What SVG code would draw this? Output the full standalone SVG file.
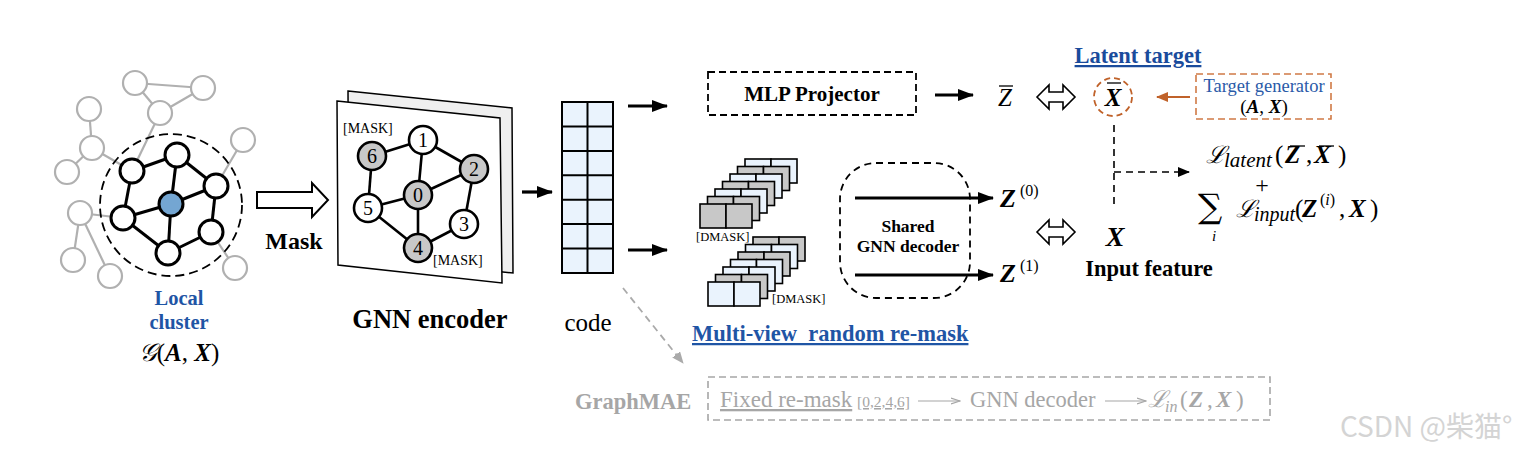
<svg xmlns="http://www.w3.org/2000/svg" width="1524" height="453" viewBox="0 0 1524 453">
<style>
.gE{stroke:#b0b0b0;stroke-width:2.2;fill:none}
.gN{stroke:#b0b0b0;stroke-width:2.2;fill:#fff}
.bE{stroke:#000;stroke-width:3;fill:none}
.bN{stroke:#000;stroke-width:3;fill:#fff}
.eE{stroke:#000;stroke-width:2.6;fill:none}
.eN{stroke:#000;stroke-width:2.6;fill:#fff}
.eG{stroke:#000;stroke-width:2.6;fill:#c8c8c8}
.num{font-family:"Liberation Serif",serif;font-size:20px;text-anchor:middle}
.ser{font-family:"Liberation Serif","DejaVu Serif",serif}
.bold{font-weight:bold}
.mi{font-family:"Liberation Serif","DejaVu Serif",serif;font-style:italic}
.scr{font-family:"DejaVu Serif",serif;font-style:italic}
.blue{fill:#1f55a5}
.thick{stroke:#000;stroke-width:3.2;fill:none}
.cell{stroke:#000;stroke-width:2;fill:#eaf3fd}
.sb{stroke:#000;stroke-width:1.6;fill:#eaf3fd}
.sg{stroke:#000;stroke-width:1.6;fill:#c8c8c8}
.gray{fill:#a6a6a6}
</style>
<defs>
<marker id="ah" markerUnits="userSpaceOnUse" markerWidth="16" markerHeight="12" refX="15" refY="6" orient="auto"><path d="M0,0 L16,6 L0,12 z" fill="#000"/></marker>
<marker id="ahO" markerUnits="userSpaceOnUse" markerWidth="12" markerHeight="10" refX="11" refY="5" orient="auto"><path d="M0,0 L12,5 L0,10 z" fill="#c0622a"/></marker>
<marker id="ahG" markerUnits="userSpaceOnUse" markerWidth="12" markerHeight="10" refX="11" refY="5" orient="auto"><path d="M0,0 L12,5 L0,10 z" fill="#aaa"/></marker>
<marker id="ahT" markerUnits="userSpaceOnUse" markerWidth="12" markerHeight="10" refX="11" refY="5" orient="auto"><path d="M0,0 L12,5 L0,10 z" fill="#000"/></marker>
<marker id="ahTG" markerUnits="userSpaceOnUse" markerWidth="10" markerHeight="8" refX="9" refY="4" orient="auto"><path d="M0,1 L9,4 L0,7" fill="none" stroke="#a6a6a6" stroke-width="1.2"/></marker>
</defs>

<!-- Local cluster -->
<g id="local-cluster">
  <g>
    <line class="gE" x1="135" y1="83" x2="203" y2="88"/>
    <line class="gE" x1="135" y1="83" x2="160" y2="113"/>
    <line class="gE" x1="203" y1="88" x2="160" y2="113"/>
    <line class="gE" x1="160" y1="113" x2="132" y2="171"/>
    <line class="gE" x1="89" y1="109" x2="92" y2="148"/>
    <line class="gE" x1="92" y1="148" x2="67" y2="172"/>
    <line class="gE" x1="92" y1="148" x2="132" y2="171"/>
    <line class="gE" x1="80" y1="213" x2="123" y2="218"/>
    <line class="gE" x1="80" y1="213" x2="73" y2="260"/>
    <line class="gE" x1="80" y1="213" x2="110" y2="276"/>
    <line class="gE" x1="243" y1="140" x2="216" y2="186"/>
    <line class="gE" x1="235" y1="268" x2="211" y2="232"/>
    <circle class="gN" cx="135" cy="83" r="12"/>
    <circle class="gN" cx="203" cy="88" r="12"/>
    <circle class="gN" cx="160" cy="113" r="12"/>
    <circle class="gN" cx="89" cy="109" r="12"/>
    <circle class="gN" cx="92" cy="148" r="12"/>
    <circle class="gN" cx="67" cy="172" r="12"/>
    <circle class="gN" cx="80" cy="213" r="12"/>
    <circle class="gN" cx="73" cy="260" r="12"/>
    <circle class="gN" cx="110" cy="276" r="12"/>
    <circle class="gN" cx="243" cy="140" r="12"/>
    <circle class="gN" cx="235" cy="268" r="12"/>
  </g>
  <circle cx="171" cy="205" r="71" fill="none" stroke="#000" stroke-width="1.8" stroke-dasharray="9,5"/>
  <g>
    <line class="bE" x1="177" y1="155" x2="132" y2="171"/>
    <line class="bE" x1="177" y1="155" x2="171" y2="204"/>
    <line class="bE" x1="177" y1="155" x2="216" y2="186"/>
    <line class="bE" x1="132" y1="171" x2="123" y2="218"/>
    <line class="bE" x1="123" y1="218" x2="171" y2="204"/>
    <line class="bE" x1="123" y1="218" x2="168" y2="253"/>
    <line class="bE" x1="171" y1="204" x2="216" y2="186"/>
    <line class="bE" x1="171" y1="204" x2="168" y2="253"/>
    <line class="bE" x1="216" y1="186" x2="211" y2="232"/>
    <line class="bE" x1="211" y1="232" x2="168" y2="253"/>
    <circle class="bN" cx="177" cy="155" r="12"/>
    <circle class="bN" cx="132" cy="171" r="12"/>
    <circle class="bN" cx="216" cy="186" r="12"/>
    <circle cx="171" cy="204" r="12" fill="#74a6d2" stroke="#000" stroke-width="3"/>
    <circle class="bN" cx="123" cy="218" r="12"/>
    <circle class="bN" cx="211" cy="232" r="12"/>
    <circle class="bN" cx="168" cy="253" r="12"/>
  </g>
  <text class="ser bold blue" x="179" y="305" font-size="20.5" text-anchor="middle">Local</text>
  <text class="ser bold blue" x="179" y="329" font-size="20.5" text-anchor="middle">cluster</text>
  <text x="179" y="361" font-size="25" text-anchor="middle"><tspan class="scr">𝒢</tspan><tspan class="ser">(</tspan><tspan class="mi bold">A</tspan><tspan class="ser">, </tspan><tspan class="mi bold">X</tspan><tspan class="ser">)</tspan></text>
</g>

<!-- Mask arrow -->
<g id="mask-step">
  <polygon points="257,192 312,192 312,183 328,200 312,217 312,208 257,208" fill="#fff" stroke="#000" stroke-width="2"/>
  <text class="ser bold" x="294" y="249" font-size="24" text-anchor="middle">Mask</text>
</g>

<!-- GNN encoder -->
<g id="gnn-encoder">
  <polygon points="348,91 512,108 513,273 349,256" fill="#efefef" stroke="#000" stroke-width="1.5"/>
  <polygon points="337,101 500,118 502,283 338,265" fill="#fff" stroke="#000" stroke-width="1.5"/>
  <line class="eE" x1="372" y1="156" x2="423" y2="140"/>
  <line class="eE" x1="423" y1="140" x2="474" y2="169"/>
  <line class="eE" x1="423" y1="140" x2="418" y2="195"/>
  <line class="eE" x1="372" y1="156" x2="368" y2="208"/>
  <line class="eE" x1="368" y1="208" x2="418" y2="195"/>
  <line class="eE" x1="418" y1="195" x2="474" y2="169"/>
  <line class="eE" x1="474" y1="169" x2="464" y2="224"/>
  <line class="eE" x1="368" y1="208" x2="418" y2="248"/>
  <line class="eE" x1="418" y1="195" x2="418" y2="248"/>
  <line class="eE" x1="418" y1="248" x2="464" y2="224"/>
  <circle class="eN" cx="423" cy="140" r="14"/>
  <circle class="eG" cx="372" cy="156" r="14"/>
  <circle class="eG" cx="474" cy="169" r="14"/>
  <circle class="eG" cx="418" cy="195" r="14"/>
  <circle class="eN" cx="368" cy="208" r="14"/>
  <circle class="eN" cx="464" cy="224" r="14"/>
  <circle class="eG" cx="418" cy="248" r="14"/>
  <text class="num" x="423" y="147">1</text>
  <text class="num" x="372" y="163">6</text>
  <text class="num" x="474" y="176">2</text>
  <text class="num" x="418" y="202">0</text>
  <text class="num" x="368" y="215">5</text>
  <text class="num" x="464" y="231">3</text>
  <text class="num" x="418" y="255">4</text>
  <text class="ser" x="343" y="133" font-size="14">[MASK]</text>
  <text class="ser" x="433" y="265" font-size="14">[MASK]</text>
  <text class="ser bold" x="430" y="328" font-size="26.5" text-anchor="middle">GNN encoder</text>
</g>

<!-- code -->
<g id="code">
  <rect class="cell" x="562" y="102" width="51" height="171"/>
  <line class="cell" x1="587.5" y1="102" x2="587.5" y2="273"/>
  <line class="cell" x1="562" y1="126.4" x2="613" y2="126.4"/>
  <line class="cell" x1="562" y1="150.9" x2="613" y2="150.9"/>
  <line class="cell" x1="562" y1="175.3" x2="613" y2="175.3"/>
  <line class="cell" x1="562" y1="199.7" x2="613" y2="199.7"/>
  <line class="cell" x1="562" y1="224.1" x2="613" y2="224.1"/>
  <line class="cell" x1="562" y1="248.6" x2="613" y2="248.6"/>
  <text class="ser" x="588" y="331" font-size="25" text-anchor="middle">code</text>
</g>

<!-- MLP projector -->
<g id="mlp-projector">
  <rect x="708" y="72" width="208" height="43" fill="none" stroke="#000" stroke-width="1.8" stroke-dasharray="7,4"/>
  <text class="ser bold" x="812" y="101" font-size="21" text-anchor="middle">MLP Projector</text>
</g>

<!-- Multi-view random re-mask -->
<g id="multi-view-remask">
  <g id="stack-top">
    <rect class="sb" x="745" y="159" width="26" height="24"/><rect class="sb" x="771" y="159" width="26" height="24"/>
    <rect class="sg" x="737.5" y="166.5" width="26" height="24"/><rect class="sg" x="763.5" y="166.5" width="26" height="24"/>
    <rect class="sb" x="730" y="174" width="26" height="24"/><rect class="sb" x="756" y="174" width="26" height="24"/>
    <rect class="sg" x="722.5" y="181.5" width="26" height="24"/><rect class="sg" x="748.5" y="181.5" width="26" height="24"/>
    <rect class="sb" x="715" y="189" width="26" height="24"/><rect class="sb" x="741" y="189" width="26" height="24"/>
    <rect class="sg" x="707.5" y="196.5" width="26" height="24"/><rect class="sg" x="733.5" y="196.5" width="26" height="24"/>
    <rect class="sg" x="700" y="204" width="26" height="24"/><rect class="sg" x="726" y="204" width="26" height="24"/>
  </g>
  <text class="ser" x="696" y="241" font-size="12.5">[DMASK]</text>
  <g id="stack-bottom">
    <rect class="sg" x="753" y="237" width="26" height="24"/><rect class="sg" x="779" y="237" width="26" height="24"/>
    <rect class="sb" x="745.5" y="244.5" width="26" height="24"/><rect class="sb" x="771.5" y="244.5" width="26" height="24"/>
    <rect class="sg" x="738" y="252" width="26" height="24"/><rect class="sg" x="764" y="252" width="26" height="24"/>
    <rect class="sb" x="730.5" y="259.5" width="26" height="24"/><rect class="sb" x="756.5" y="259.5" width="26" height="24"/>
    <rect class="sb" x="723" y="267" width="26" height="24"/><rect class="sb" x="749" y="267" width="26" height="24"/>
    <rect class="sg" x="715.5" y="274.5" width="26" height="24"/><rect class="sg" x="741.5" y="274.5" width="26" height="24"/>
    <rect class="sb" x="708" y="282" width="26" height="24"/><rect class="sb" x="734" y="282" width="26" height="24"/>
  </g>
  <text class="ser" x="772" y="303" font-size="12.5">[DMASK]</text>
  <text class="ser bold blue" x="692" y="341" font-size="22.5" text-decoration="underline" xml:space="preserve">Multi-view  random re-mask</text>
</g>

<!-- Shared GNN decoder -->
<g id="shared-decoder">
  <rect x="840" y="163" width="130" height="135" rx="36" ry="36" fill="none" stroke="#000" stroke-width="1.8" stroke-dasharray="7,5"/>
  <text class="ser bold" x="908" y="232" font-size="17.5" text-anchor="middle">Shared</text>
  <text class="ser bold" x="908" y="252" font-size="17.5" text-anchor="middle">GNN decoder</text>
</g>

<!-- Outputs -->
<g id="z-bar">
  <text class="mi" x="1005" y="106" font-size="25" text-anchor="middle">Z</text>
  <line x1="999" y1="86" x2="1013" y2="86" stroke="#000" stroke-width="1.3"/>
</g>
<g id="z0">
  <text class="mi bold" x="1000" y="207" font-size="26">Z</text>
  <text class="ser" x="1020" y="196" font-size="16">(0)</text>
</g>
<g id="z1">
  <text class="mi bold" x="1000" y="282" font-size="26">Z</text>
  <text class="ser" x="1020" y="271" font-size="16">(1)</text>
</g>
<g id="equiv-top">
  <polygon points="1037,97 1049,85 1049,92 1063,92 1063,85 1075,97 1063,109 1063,102 1049,102 1049,109" fill="#fff" stroke="#000" stroke-width="1.6"/>
</g>
<g id="equiv-bottom">
  <polygon points="1037,232 1049,220 1049,227 1063,227 1063,220 1075,232 1063,244 1063,237 1049,237 1049,244" fill="#fff" stroke="#000" stroke-width="1.6"/>
</g>

<!-- Latent target -->
<g id="latent-target">
  <text class="ser bold" x="1138" y="63" font-size="22.5" text-anchor="middle" fill="#1a4b9c" text-decoration="underline">Latent target</text>
  <circle cx="1113" cy="97" r="19" fill="none" stroke="#c0622a" stroke-width="1.8" stroke-dasharray="6,4"/>
  <text class="mi bold" x="1113" y="106" font-size="25" text-anchor="middle">X</text>
  <line x1="1107" y1="83" x2="1121" y2="83" stroke="#000" stroke-width="1.3"/>
</g>

<!-- Target generator -->
<g id="target-generator">
  <rect x="1196" y="74" width="135" height="45" fill="none" stroke="#d07a45" stroke-width="1.6" stroke-dasharray="7,4"/>
  <text class="ser" x="1264" y="92" font-size="18.5" text-anchor="middle" fill="#2a5aa8">Target generator</text>
  <text x="1264" y="113" font-size="19" text-anchor="middle"><tspan class="ser">(</tspan><tspan class="mi bold">A</tspan><tspan class="ser">, </tspan><tspan class="mi bold">X</tspan><tspan class="ser">)</tspan></text>
</g>

<!-- Input feature -->
<g id="input-feature">
  <text class="mi bold" x="1115" y="246" font-size="28" text-anchor="middle">X</text>
  <text class="ser bold" x="1149" y="276" font-size="22.5" text-anchor="middle">Input feature</text>
</g>

<!-- Loss -->
<g id="loss">
  <text class="scr" x="1206" y="163" font-size="24">ℒ</text>
  <text class="mi" x="1224" y="167" font-size="21">latent</text>
  <text class="ser" x="1275" y="163" font-size="25">(</text>
  <text class="mi bold" x="1285" y="163" font-size="25">Z</text>
  <line x1="1290" y1="146" x2="1305" y2="146" stroke="#000" stroke-width="1.3"/>
  <text class="ser" x="1306" y="163" font-size="25">,</text>
  <text class="mi bold" x="1314" y="163" font-size="25">X</text>
  <line x1="1319" y1="146" x2="1334" y2="146" stroke="#000" stroke-width="1.3"/>
  <text class="ser" x="1338" y="163" font-size="25">)</text>
  <text class="ser" x="1262" y="193" font-size="24" text-anchor="middle">+</text>
  <text x="1198" y="218" font-size="34" font-family="'DejaVu Serif',serif">∑</text>
  <text class="mi" x="1212" y="241" font-size="15">i</text>
  <text class="scr" x="1236" y="217" font-size="24">ℒ</text>
  <text class="mi" x="1254" y="221" font-size="20">input</text>
  <text class="ser" x="1295" y="217" font-size="25">(</text>
  <text class="mi bold" x="1302" y="217" font-size="25">Z</text>
  <text class="ser" x="1320" y="205" font-size="16">(<tspan font-style="italic">i</tspan>)</text>
  <text class="ser" x="1339" y="217" font-size="25">,</text>
  <text class="mi bold" x="1349" y="217" font-size="25">X</text>
  <text class="ser" x="1370" y="217" font-size="25">)</text>
</g>

<!-- GraphMAE -->
<g id="graphmae">
  <text class="ser bold gray" x="575" y="409" font-size="22.5">GraphMAE</text>
  <rect x="708" y="377" width="562" height="43" fill="none" stroke="#a6a6a6" stroke-width="1.6" stroke-dasharray="7,4"/>
  <text class="ser gray" x="720" y="407" font-size="23" text-decoration="underline">Fixed re-mask</text>
  <text class="ser gray" x="857" y="407" font-size="15.5" text-decoration="underline">[0,2,4,6]</text>
  <text class="ser gray" x="970" y="407" font-size="22.5">GNN decoder</text>
  <text class="scr" x="1148" y="407" font-size="23" fill="#a6a6a6">ℒ</text>
  <text class="mi gray" x="1165" y="412" font-size="16">in</text>
  <text class="ser gray" x="1180" y="407" font-size="23">(</text>
  <text class="mi bold gray" x="1189" y="407" font-size="23">Z</text>
  <text class="ser gray" x="1207" y="407" font-size="23">,</text>
  <text class="mi bold gray" x="1216" y="407" font-size="23">X</text>
  <text class="ser gray" x="1236" y="407" font-size="23">)</text>
</g>

<!-- Connectors -->
<g id="connectors">
  <line class="thick" x1="522" y1="192" x2="552" y2="192" marker-end="url(#ah)"/>
  <line class="thick" x1="628" y1="106" x2="667" y2="106" marker-end="url(#ah)"/>
  <line class="thick" x1="628" y1="250" x2="667" y2="250" marker-end="url(#ah)"/>
  <line class="thick" x1="935" y1="95" x2="973" y2="95" marker-end="url(#ah)"/>
  <line class="thick" x1="855" y1="198" x2="993" y2="198" marker-end="url(#ah)"/>
  <line class="thick" x1="855" y1="275" x2="993" y2="275" marker-end="url(#ah)"/>
  <line x1="1190" y1="97" x2="1157" y2="97" stroke="#c0622a" stroke-width="1.8" marker-end="url(#ahO)"/>
  <line x1="1114" y1="125" x2="1114" y2="207" stroke="#000" stroke-width="1.6" stroke-dasharray="7,5"/>
  <line x1="1114" y1="172" x2="1189" y2="172" stroke="#000" stroke-width="1.6" stroke-dasharray="7,5" marker-end="url(#ahT)"/>
  <line x1="623" y1="288" x2="683" y2="363" stroke="#aaa" stroke-width="1.8" stroke-dasharray="7,5" marker-end="url(#ahG)"/>
  <line x1="918" y1="401" x2="960" y2="401" stroke="#a6a6a6" stroke-width="1.2" marker-end="url(#ahTG)"/>
  <line x1="1105" y1="401" x2="1146" y2="401" stroke="#a6a6a6" stroke-width="1.2" marker-end="url(#ahTG)"/>
</g>

<text x="1340" y="437" font-size="28" fill="#d4d4d4" font-family="'Noto Sans CJK SC','Noto Sans',sans-serif">CSDN @柴猫°</text>
</svg>
